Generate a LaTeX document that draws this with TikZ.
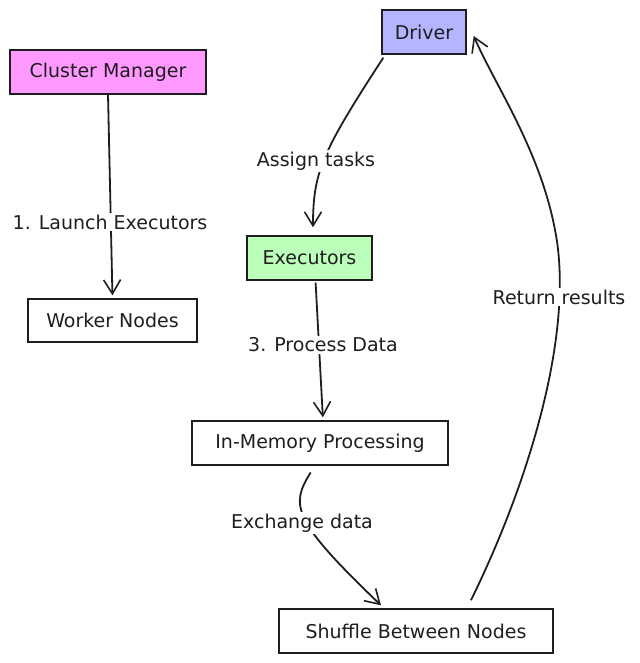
\documentclass[tikz,border=0pt]{standalone}
\usepackage{fontspec}
\setmainfont{DejaVu Sans}
\usetikzlibrary{arrows.meta}
\definecolor{ink}{HTML}{1E1E1E}
\definecolor{cmfill}{HTML}{FF99FF}
\definecolor{drvfill}{HTML}{B4B4FF}
\definecolor{exefill}{HTML}{BBFFBB}
\tikzset{
  box/.style={draw=ink, line width=1.4pt, inner sep=0pt, text=ink,
    font=\fontsize{19}{22}\selectfont},
  conn/.style={draw=ink, line width=1.8pt,
    -{Straight Barb[length=14pt,width=17pt,line width=1.6pt]}},
  lbl/.style={fill=white, inner sep=2pt, text=ink,
    font=\fontsize{19}{22}\selectfont},
}
\begin{document}
\begin{tikzpicture}[x=1pt,y=-1pt]
\useasboundingbox (0,0) rectangle (639,663);
\node[box, fill=cmfill, minimum width=196pt, minimum height=44pt] (cm) at (108,72) {Cluster Manager};
\node[box, fill=white, minimum width=169pt, minimum height=43pt] (wn) at (112.5,320.5) {Worker Nodes};
\node[box, fill=drvfill, minimum width=84pt, minimum height=44pt] (drv) at (424,32) {Driver};
\node[box, fill=exefill, minimum width=125pt, minimum height=44pt] (exe) at (309.5,258) {Executors};
\node[box, fill=white, minimum width=256pt, minimum height=44pt] (mem) at (320,443) {In-Memory Processing};
\node[box, fill=white, minimum width=274pt, minimum height=44pt] (shf) at (416,631) {Shuffle Between Nodes};

% Cluster Manager -> Worker Nodes
\draw[conn, shorten >=3pt] (cm.south) -- (wn.north);
\node[lbl] (l1) at (110,222) {1. Launch Executors};

% Driver -> Executors
\draw[conn] ([xshift=2pt,yshift=-3pt]drv.south west) .. controls (322,152) and (313,172) .. ([xshift=3.5pt,yshift=8pt]exe.north);
\node[lbl] (l2) at (316,161) {Assign tasks};

% Executors -> In-Memory
\draw[conn, shorten <=2pt, shorten >=3pt] ([xshift=6pt]exe.south) -- ([xshift=3pt]mem.north);
\node[lbl] (l3) at (323,345) {3. Process Data};

% In-Memory -> Shuffle
\draw[conn, shorten <=8pt] ([xshift=-5pt]mem.south) .. controls (290,505) and (292,520) .. ([xshift=-35pt,yshift=3pt]shf.north);
\node[lbl] (l4) at (302,523) {Exchange data};

% Shuffle -> Driver
\draw[conn, shorten <=9pt] ([xshift=51pt]shf.north) .. controls (530,480) and (575,330) .. (555,230) .. controls (540,150) and (495,85) .. ([xshift=7pt,yshift=-4pt]drv.east);
\node[lbl] (l5) at (559,297) {Return results};
\end{tikzpicture}
\end{document}
